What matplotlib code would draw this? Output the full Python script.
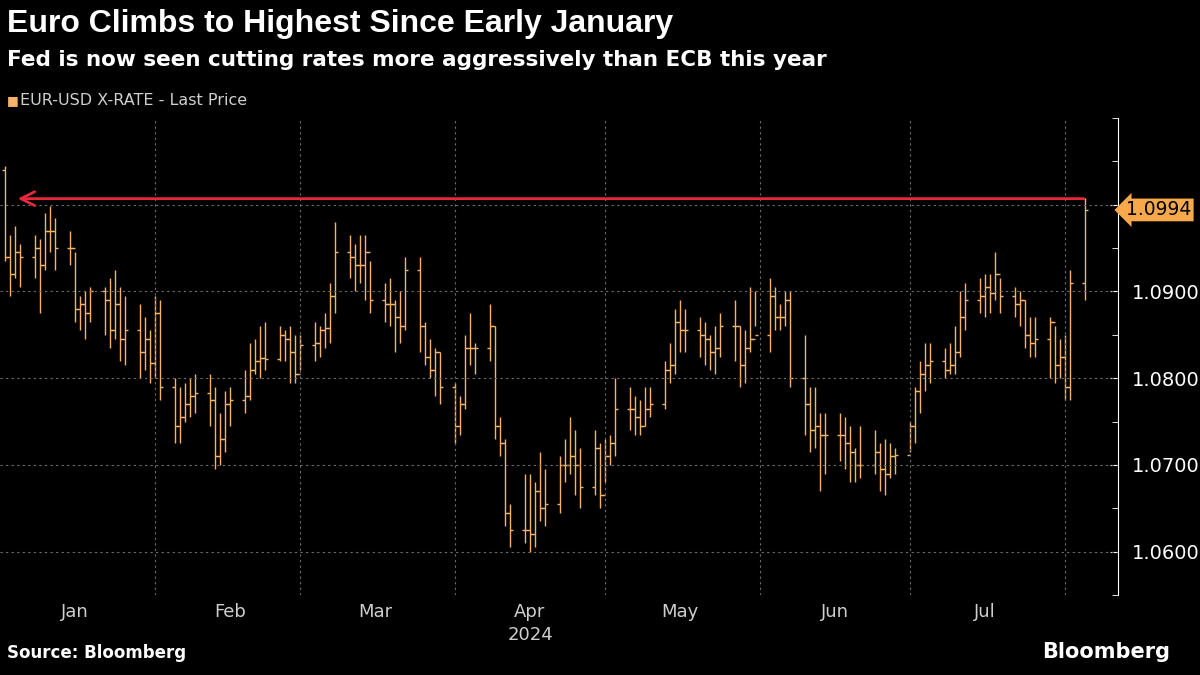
import pandas as pd, numpy as np
import matplotlib
matplotlib.use('Agg')
import matplotlib.pyplot as plt
import matplotlib.dates as mdates

# EUR-USD daily bars (Jan 2 .. Aug 5 2024)
close_jan = [1.0940,1.0920,1.0945,1.0940,1.0950,1.0930,1.0970,1.0970,1.0950,1.0950,1.0880,1.0885,1.0875,1.0900,1.0890,1.0855,1.0885,1.0845,1.0855,1.0830,1.0845,1.0818]
close_feb = [1.0875,1.0790,1.0745,1.0755,1.0770,1.0780,1.0783,1.0775,1.0710,1.0730,1.0770,1.0775,1.0780,1.0810,1.0820,1.0823,1.0822,1.0850,1.0845,1.0830,1.0805]
close_mar = [1.0838,1.0840,1.0855,1.0858,1.0895,1.0945,1.0940,1.0930,1.0930,1.0945,1.0890,1.0885,1.0885,1.0870,1.0860,1.0925,1.0860,1.0825,1.0810,1.0830,1.0790]
close_apr = [1.0745,1.0770,1.0835,1.0835,1.0835,1.0860,1.0745,1.0725,1.0645,1.0625,1.0625,1.0620,1.0670,1.0650,1.0655,1.0700,1.0700,1.0710,1.0700,1.0675,1.0720,1.0665]
close_may = [1.0710,1.0725,1.0765,1.0765,1.0755,1.0745,1.0765,1.0770,1.0810,1.0815,1.0865,1.0855,1.0855,1.0850,1.0845,1.0830,1.0835,1.0860,1.0860,1.0815,1.0835,1.0845,1.0850]
close_jun = [1.0895,1.0870,1.0870,1.0890,1.0800,1.0770,1.0740,1.0745,1.0735,1.0735,1.0735,1.0725,1.0715,1.0700,1.0700,1.0715,1.0695,1.0690,1.0710,1.0712]
close_jul = [1.0745,1.0785,1.0805,1.0815,1.0820,1.0810,1.0815,1.0830,1.0870,1.0890,1.0895,1.0905,1.0898,1.0920,1.0895,1.0885,1.0890,1.0850,1.0840,1.0845,1.0865,1.0815,1.0825]
close_aug = [1.0790,1.0910,1.0994]

high_jan = [1.1045,1.0965,1.0975,1.0955,1.0965,1.0960,1.0990,1.0998,1.0985,1.0970,1.0945,1.0895,1.0900,1.0905,1.0905,1.0915,1.0925,1.0905,1.0895,1.0885,1.0870,1.0855]
low_jan = [1.0935,1.0895,1.0915,1.0905,1.0915,1.0875,1.0925,1.0945,1.0925,1.0930,1.0865,1.0855,1.0845,1.0865,1.0850,1.0835,1.0845,1.0820,1.0815,1.0800,1.0810,1.0795]
high_feb = [1.0895,1.0890,1.0800,1.0790,1.0795,1.0800,1.0805,1.0805,1.0790,1.0760,1.0785,1.0790,1.0810,1.0840,1.0845,1.0860,1.0865,1.0860,1.0855,1.0860,1.0850]
low_feb = [1.0800,1.0775,1.0725,1.0725,1.0750,1.0755,1.0760,1.0745,1.0695,1.0700,1.0715,1.0745,1.0760,1.0775,1.0805,1.0800,1.0810,1.0820,1.0820,1.0795,1.0795]
high_mar = [1.0850,1.0865,1.0860,1.0875,1.0910,1.0980,1.0965,1.0955,1.0965,1.0965,1.0935,1.0910,1.0915,1.0890,1.0900,1.0940,1.0940,1.0865,1.0845,1.0835,1.0830]
low_mar = [1.0810,1.0820,1.0825,1.0835,1.0840,1.0875,1.0915,1.0900,1.0910,1.0890,1.0875,1.0865,1.0860,1.0830,1.0840,1.0855,1.0830,1.0815,1.0800,1.0780,1.0770]
high_apr = [1.0795,1.0780,1.0850,1.0875,1.0840,1.0885,1.0860,1.0755,1.0730,1.0655,1.0690,1.0690,1.0680,1.0715,1.0695,1.0710,1.0730,1.0755,1.0740,1.0720,1.0740,1.0725]
low_apr = [1.0725,1.0735,1.0765,1.0815,1.0805,1.0820,1.0730,1.0710,1.0630,1.0605,1.0610,1.0600,1.0605,1.0635,1.0630,1.0645,1.0680,1.0690,1.0665,1.0650,1.0665,1.0650]
high_may = [1.0730,1.0735,1.0800,1.0790,1.0780,1.0775,1.0790,1.0790,1.0820,1.0840,1.0880,1.0890,1.0880,1.0870,1.0865,1.0850,1.0860,1.0875,1.0890,1.0860,1.0855,1.0905,1.0900]
low_may = [1.0680,1.0700,1.0710,1.0740,1.0735,1.0735,1.0745,1.0755,1.0765,1.0795,1.0805,1.0830,1.0830,1.0825,1.0815,1.0810,1.0805,1.0825,1.0820,1.0790,1.0795,1.0830,1.0860]
high_jun = [1.0915,1.0905,1.0885,1.0900,1.0900,1.0850,1.0790,1.0790,1.0760,1.0760,1.0760,1.0755,1.0745,1.0720,1.0745,1.0740,1.0725,1.0730,1.0725,1.0720]
low_jun = [1.0830,1.0855,1.0855,1.0860,1.0790,1.0735,1.0715,1.0720,1.0670,1.0690,1.0705,1.0695,1.0680,1.0680,1.0685,1.0690,1.0670,1.0665,1.0685,1.0690]
high_jul = [1.0750,1.0790,1.0820,1.0840,1.0840,1.0835,1.0840,1.0860,1.0900,1.0910,1.0915,1.0920,1.0920,1.0945,1.0915,1.0905,1.0900,1.0890,1.0870,1.0870,1.0870,1.0860,1.0845]
low_jul = [1.0715,1.0725,1.0760,1.0785,1.0795,1.0800,1.0805,1.0805,1.0825,1.0855,1.0875,1.0870,1.0875,1.0890,1.0875,1.0870,1.0860,1.0835,1.0825,1.0825,1.0800,1.0795,1.0800]
high_aug = [1.0850,1.0925,1.1008]
low_aug = [1.0775,1.0775,1.0890]

first_open = 1.1040
last_price = 1.0994
jan_high = 1.1007   # early January level (red line)

closes = close_jan+close_feb+close_mar+close_apr+close_may+close_jun+close_jul+close_aug
highs = high_jan+high_feb+high_mar+high_apr+high_may+high_jun+high_jul+high_aug
lows = low_jan+low_feb+low_mar+low_apr+low_may+low_jun+low_jul+low_aug
dates = pd.bdate_range('2024-01-02', periods=len(closes))
opens = [first_open] + closes[:-1]

bg = 'black'; orange = '#f5b26b'; grid = '#6e6e6e'
fig = plt.figure(figsize=(12, 6.75), dpi=100, facecolor=bg)
ax = fig.add_axes([0.0, 0.1185, 0.9317, 0.7067], facecolor=bg)

x = mdates.date2num(dates)
w = 0.6
ax.vlines(x, lows, highs, color=orange, lw=1.0)
ax.hlines(opens, x - w, x, color=orange, lw=1.0)
ax.hlines(closes, x, x + w, color=orange, lw=1.0)

ax.set_xlim(mdates.date2num(pd.Timestamp('2024-01-01')), mdates.date2num(pd.Timestamp('2024-08-11')) + 0.6)
ax.set_ylim(1.0558, 1.1097)

# red line with arrow back to early January
ax.annotate('', xy=(mdates.date2num(pd.Timestamp('2024-01-04')), jan_high),
            xytext=(x[-1] + 0.3, jan_high),
            arrowprops=dict(arrowstyle='->', color='#e8283c', lw=2, mutation_scale=25))

month_starts = pd.date_range('2024-02-01', '2024-08-01', freq='MS')
for d in month_starts:
    ax.axvline(mdates.date2num(d), color=grid, ls=(0, (2, 3)), lw=0.8)
yt = [1.06, 1.07, 1.08, 1.09, 1.10]
for v in yt:
    ax.axhline(v, color=grid, ls=(0, (2, 3)), lw=0.8)

mids = [pd.Timestamp(f'2024-{m:02d}-16') for m in range(1, 8)]
ax.set_xticks(mdates.date2num(mids))
ax.set_xticklabels(['Jan', 'Feb', 'Mar', 'Apr', 'May', 'Jun', 'Jul'])
ax.tick_params(axis='x', length=0, colors='#cfcfcf', labelsize=13, pad=6)
ax.text(mdates.date2num(pd.Timestamp('2024-04-16')), -0.065, '2024', transform=ax.get_xaxis_transform(),
        ha='center', va='top', color='#cfcfcf', fontsize=13)

ax.yaxis.tick_right()
ax.set_yticks(yt)
ax.set_yticklabels(['1.0600', '1.0700', '1.0800', '1.0900', ''])
ax.set_yticks(np.arange(1.055, 1.11, 0.005), minor=True)
ax.tick_params(axis='y', which='both', direction='in', colors='white', labelsize=14, pad=10)
ax.tick_params(axis='y', which='major', length=6)
ax.tick_params(axis='y', which='minor', length=4)
for s in ['top', 'left', 'bottom']:
    ax.spines[s].set_visible(False)
ax.spines['right'].set_color('white')

ax.annotate(f'{last_price:.4f}', xy=(1.0, last_price), xycoords=('axes fraction', 'data'),
            xytext=(6, 0), textcoords='offset points', ha='left', va='center', fontsize=13.5,
            color='black', bbox=dict(boxstyle='larrow,pad=0.1', fc='#f7a84b', ec='none'))

fig.text(0.006, 0.965, 'Euro Climbs to Highest Since Early January', color='white',
         fontsize=23, fontweight='bold', va='center', family='Liberation Sans')
fig.text(0.006, 0.911, 'Fed is now seen cutting rates more aggressively than ECB this year', color='white',
         fontsize=15.5, fontweight='bold', va='center')
fig.text(0.006, 0.851, '\u25a0', color=orange, fontsize=9, va='center')
fig.text(0.017, 0.851, 'EUR-USD X-RATE - Last Price', color='#cfcfcf', fontsize=11.5, va='center')
fig.text(0.006, 0.02, 'Source: Bloomberg', color='white', fontsize=12, fontweight='bold', va='bottom')
fig.text(0.975, 0.02, 'Bloomberg', color='white', fontsize=15, fontweight='bold', va='bottom', ha='right')

fig.savefig('out.png', dpi=100, facecolor=bg)
